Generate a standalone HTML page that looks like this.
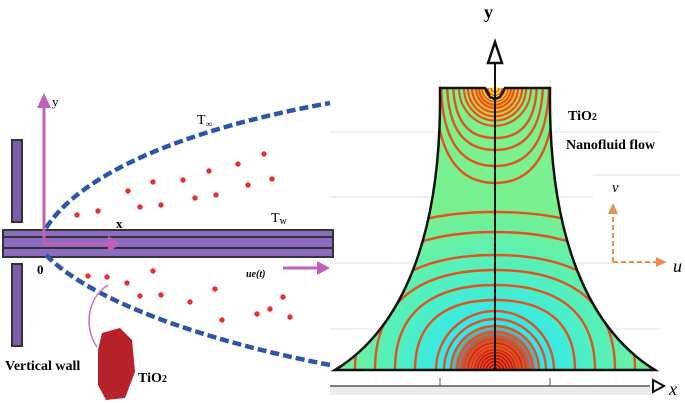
<!DOCTYPE html>
<html><head><meta charset="utf-8">
<style>
html,body{margin:0;padding:0;background:#fff;}
svg{display:block;font-family:"Liberation Serif",serif;}
</style></head>
<body>
<svg id="fig" width="685" height="403" viewBox="0 0 685 403" xmlns="http://www.w3.org/2000/svg">
<defs>
  <radialGradient id="botGrad" cx="495" cy="370" r="330" gradientUnits="userSpaceOnUse">
    <stop offset="0" stop-color="#b00000"/>
    <stop offset="0.08" stop-color="#d02020"/>
    <stop offset="0.14" stop-color="#30e8f0"/>
    <stop offset="0.3" stop-color="#50f0c0"/>
    <stop offset="0.5" stop-color="#78f090"/>
    <stop offset="1" stop-color="#80f088"/>
  </radialGradient>
  <radialGradient id="topGrad" cx="495" cy="92" r="34" gradientUnits="userSpaceOnUse">
    <stop offset="0" stop-color="#ffff40"/>
    <stop offset="0.4" stop-color="#ffb020"/>
    <stop offset="0.8" stop-color="#f0c040" stop-opacity="0.6"/>
    <stop offset="1" stop-color="#80f088" stop-opacity="0"/>
  </radialGradient>
  <clipPath id="shapeClip">
    <path d="M440,88 L550,88 C548,240 590,330 655,370 L335,370 C400,330 442,240 440,88 Z"/>
  </clipPath>
</defs>

<!-- LEFT PANEL -->
<g>
  <rect x="12" y="140" width="10" height="82" fill="#7d5cb0" stroke="#333" stroke-width="2"/>
  <rect x="12" y="264" width="10" height="82" fill="#7d5cb0" stroke="#333" stroke-width="2"/>
  <g>
    <rect x="3" y="230" width="330" height="27" fill="#8b6cc0" stroke="#333" stroke-width="2"/>
    <line x1="3" y1="237" x2="333" y2="237" stroke="#333" stroke-width="2"/>
    <line x1="3" y1="248" x2="333" y2="248" stroke="#333" stroke-width="2"/>
  </g>
  <path d="M46,228 C80,175 180,130 330,103" fill="none" stroke="#2d55a8" stroke-width="4.5" stroke-dasharray="9,4"/>
  <path d="M46,255 C90,300 200,340 330,365" fill="none" stroke="#2d55a8" stroke-width="4.5" stroke-dasharray="9,4"/>
  <g>
    <line x1="44" y1="245" x2="44" y2="105" stroke="#c060b8" stroke-width="3"/>
    <polygon points="37,108 51,108 44,93" fill="#c060b8"/>
  </g>
  <g>
    <line x1="44" y1="244" x2="108" y2="244" stroke="#c060b8" stroke-width="3"/>
    <polygon points="108,236 108,252 121,244" fill="#c060b8"/>
  </g>
  <g>
    <line x1="283" y1="268" x2="318" y2="268" stroke="#c060b8" stroke-width="3"/>
    <polygon points="317,261 317,275 330,268" fill="#c060b8"/>
  </g>
  <text x="52" y="106" font-size="13">y</text>
  <text x="116" y="228" font-size="13" font-weight="bold">x</text>
  <text x="37" y="274" font-size="13" font-weight="bold">0</text>
  <text x="197" y="124" font-size="14">T<tspan font-size="9" dy="3">∞</tspan></text>
  <text x="271" y="222" font-size="14">T<tspan font-size="10" dy="2">w</tspan></text>
  <text x="246" y="277" font-size="10" font-style="italic" font-weight="bold">ue(t)</text>
  <text x="5" y="370" font-size="14" font-weight="bold">Vertical wall</text>
  <text x="138" y="382" font-size="14" font-weight="bold">TiO<tspan font-size="10">2</tspan></text>
  <path d="M108,285 C85,300 85,330 97,347" fill="none" stroke="#c070c0" stroke-width="1.5"/>
  <polygon points="102,333 120,328 132,340 135,372 125,398 106,400 98,385 98,350" fill="#b8222a"/>
  <g id="dots"></g>
</g>

<!-- RIGHT PANEL -->
<g>
  <g stroke="#e0e0e0" stroke-width="1">
    <line x1="330" y1="132" x2="660" y2="132"/>
    <line x1="330" y1="197" x2="593" y2="197"/>
    <line x1="593" y1="175" x2="680" y2="175"/>
    <line x1="330" y1="263" x2="660" y2="263"/>
    <line x1="330" y1="329" x2="660" y2="329"/>
    <line x1="440" y1="80" x2="440" y2="88"/>
    <line x1="550" y1="80" x2="550" y2="88"/>
  </g>
  <g clip-path="url(#shapeClip)">
    <rect x="330" y="85" width="330" height="290" fill="url(#botGrad)"/>
    <rect x="440" y="85" width="110" height="60" fill="url(#topGrad)"/>
    <g id="contours" fill="none" stroke="#e0531e" stroke-width="2.4"></g>
  </g>
  <path d="M440,88 L485,88 L490,97 L495,99 L500,97 L505,88 L550,88 C548,240 590,330 655,370 L335,370 C400,330 442,240 440,88 Z" fill="none" stroke="#111" stroke-width="2.5"/>
  <g>
    <line x1="495" y1="370" x2="495" y2="62" stroke="#111" stroke-width="2"/>
    <polygon points="488,63 502,63 495,42" fill="#fff" stroke="#111" stroke-width="2.5"/>
  </g>
  <text x="484" y="18" font-size="18" font-weight="bold">y</text>
  <g>
    <line x1="330" y1="386" x2="650" y2="386" stroke="#555" stroke-width="1.5"/>
    <rect x="330" y="387" width="325" height="8" fill="#ececec"/>
    <line x1="440" y1="378" x2="440" y2="386" stroke="#555"/>
    <line x1="550" y1="378" x2="550" y2="386" stroke="#555"/>
    <polygon points="653,380 653,392 664,386" fill="#fff" stroke="#111" stroke-width="2"/>
  </g>
  <text x="669" y="395" font-size="18" font-style="italic">x</text>
  <text x="568" y="120" font-size="14" font-weight="bold">TiO<tspan font-size="10">2</tspan></text>
  <text x="566" y="149" font-size="14" font-weight="bold">Nanofluid flow</text>
  <g>
    <line x1="613" y1="262" x2="613" y2="210" stroke="#e89050" stroke-width="2" stroke-dasharray="5,3"/>
    <polygon points="608,214 618,214 613,203" fill="#e89050"/>
    <line x1="613" y1="262" x2="658" y2="262" stroke="#e89050" stroke-width="2" stroke-dasharray="5,3"/>
    <polygon points="656,257 656,267 667,262" fill="#e89050"/>
  </g>
  <text x="612" y="192" font-size="15" font-style="italic">v</text>
  <text x="673" y="272" font-size="18" font-style="italic">u</text>
</g>

<script>
const dotX = [77,98,128,153,140,161,183,195,209,216,238,248,264,272, 88,107,127,153,140,161,190,215,222,257,270,283,290];
const dotY = [215,211,191,182,207,205,180,198,171,195,164,185,154,179, 276,277,283,271,296,295,302,289,320,314,309,297,317];
const ns = "http://www.w3.org/2000/svg";
const dg = document.getElementById('dots');
for (let i = 0; i < dotX.length; i++) {
  const c = document.createElementNS(ns, 'circle');
  c.setAttribute('cx', dotX[i]); c.setAttribute('cy', dotY[i]); c.setAttribute('r', 2.7);
  c.setAttribute('fill', '#e83030');
  
  
  dg.appendChild(c);
}
const cx = 495;
const botRadii = [4,7,10,13,16,19,22,25,29,33,38,44,51,59];
const topRadii = [4,7,10,13,16,19,23,27,31,36];
const archHalfWidths = [80,100,120,140,165,190];
const archHeights = [70,85,100,115,138,158];
const uHalfWidths = [42,48,54,60];
const uDepths = [50,62,78,95];
const cg = document.getElementById('contours');
function addPath(d, name, w) {
  const p = document.createElementNS(ns, 'path');
  p.setAttribute('d', d);
  if (w) p.setAttribute('stroke-width', w);
  
  
  cg.appendChild(p);
}
botRadii.forEach(r => {
  addPath(`M${cx-r},370 A${r},${r} 0 0 1 ${cx+r},370`, 'bottom-contour', r < 20 ? 1.5 : 2.4);
});
topRadii.forEach(r => {
  addPath(`M${cx-r},88 A${r},${r*1.05} 0 0 0 ${cx+r},88`, 'top-contour', r < 16 ? 1.4 : 2.1);
});
archHalfWidths.forEach((w, i) => {
  const h = archHeights[i], y0 = 370;
  addPath(`M${cx-w},${y0} C${cx-w},${y0-h*0.75} ${cx-w*0.55},${y0-h} ${cx},${y0-h} C${cx+w*0.55},${y0-h} ${cx+w},${y0-h*0.75} ${cx+w},${y0}`, 'middle-arch-contour');
});
uHalfWidths.forEach((w, i) => {
  const d0 = uDepths[i];
  addPath(`M${cx-w},80 C${cx-w},${88+d0*0.8} ${cx-w*0.5},${88+d0} ${cx},${88+d0} C${cx+w*0.5},${88+d0} ${cx+w},${88+d0*0.8} ${cx+w},80`, 'upper-u-contour');
});
</script>
</svg>
</body></html>
